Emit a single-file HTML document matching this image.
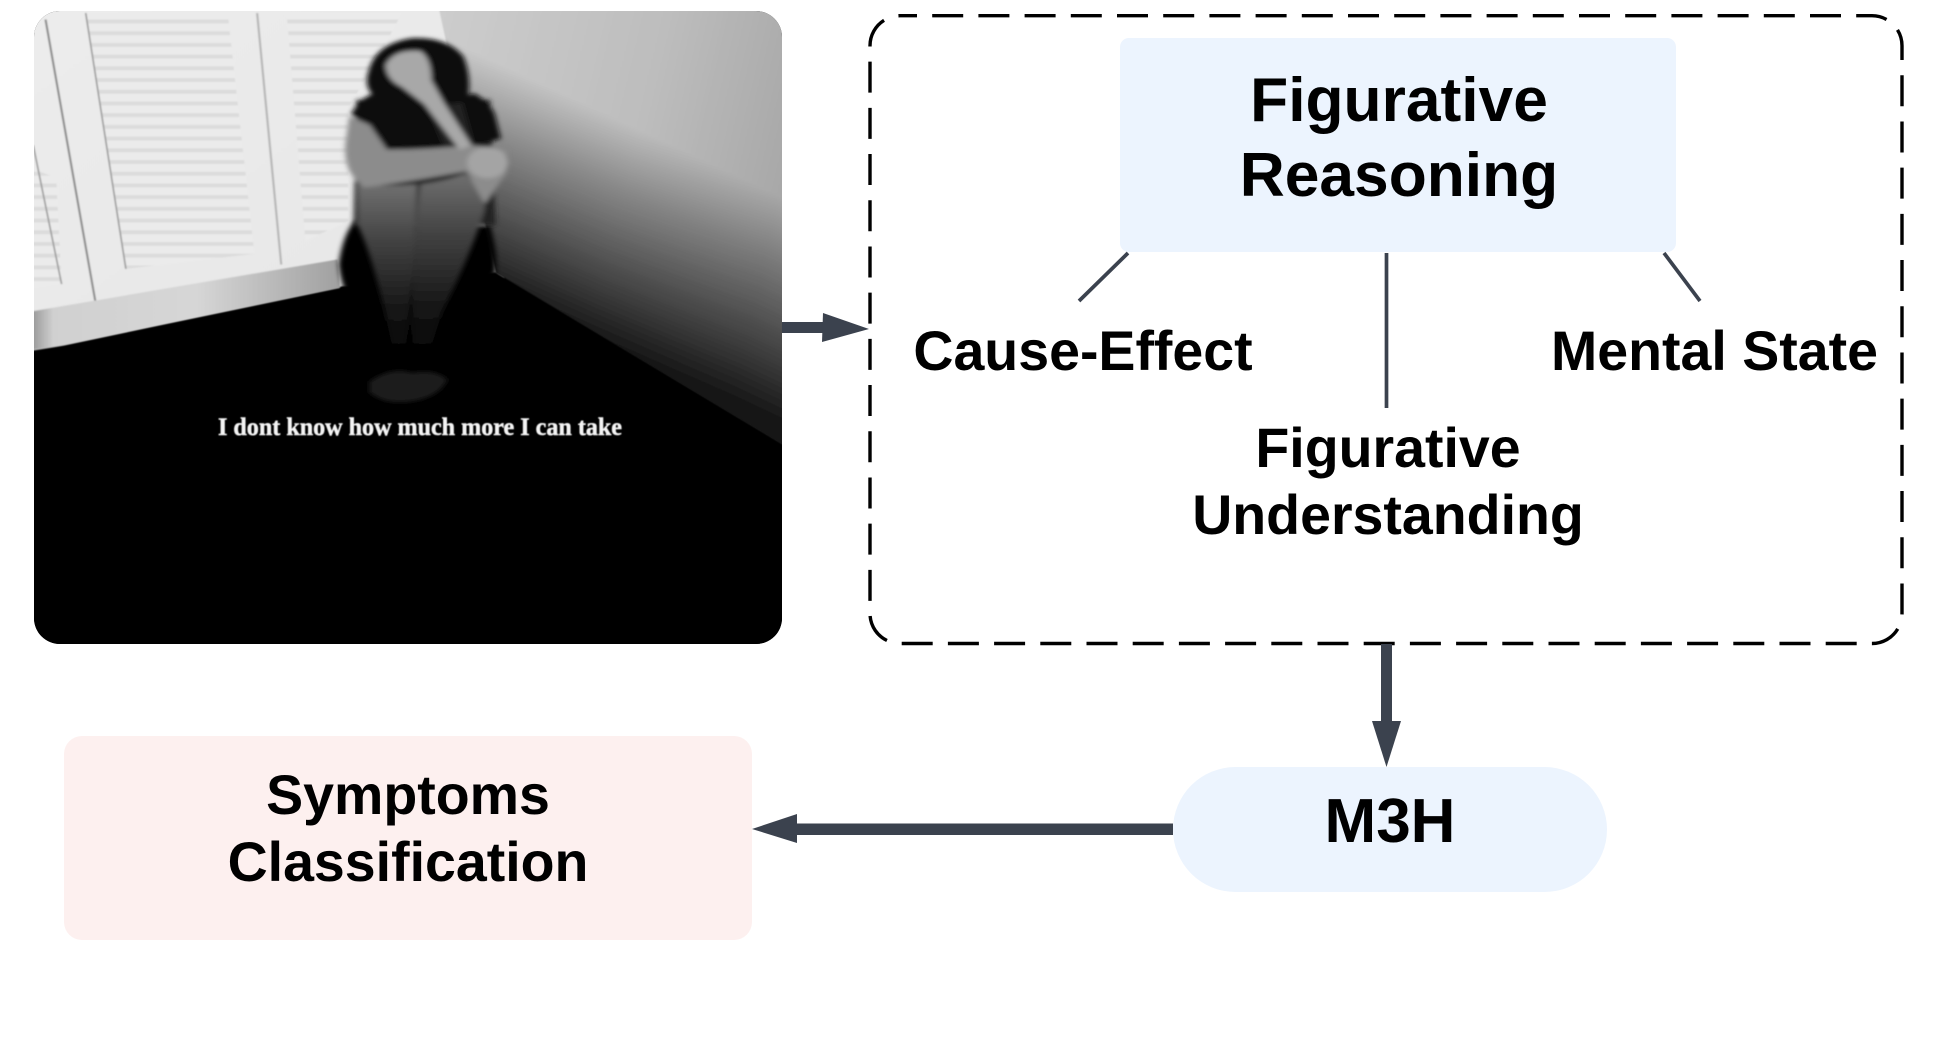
<!DOCTYPE html>
<html><head><meta charset="utf-8"><title>Figurative Reasoning Diagram</title>
<style>html,body{margin:0;padding:0;background:#fff}svg{display:block}text{font-family:"Liberation Sans",sans-serif;font-weight:700;fill:#000;text-anchor:middle}</style></head>
<body>
<svg width="1956" height="1064" viewBox="0 0 1956 1064" xmlns="http://www.w3.org/2000/svg">
<defs>
<clipPath id="ph"><rect x="34" y="11" width="748" height="633" rx="26" ry="26"/></clipPath>
<linearGradient id="wall" x1="0" y1="0" x2="1" y2="0.3"><stop offset="0" stop-color="#cdcdcd"/><stop offset=".6" stop-color="#bdbdbd"/><stop offset="1" stop-color="#a8a8a8"/></linearGradient>
<linearGradient id="shade" gradientUnits="userSpaceOnUse" x1="1190" y1="825" x2="1420" y2="430"><stop offset="0" stop-color="#000" stop-opacity=".88"/><stop offset=".3" stop-color="#000" stop-opacity=".62"/><stop offset=".7" stop-color="#000" stop-opacity=".28"/><stop offset="1" stop-color="#000" stop-opacity="0"/></linearGradient>
<linearGradient id="door" x1="0" y1="0" x2="1" y2="1"><stop offset="0" stop-color="#ececec"/><stop offset="1" stop-color="#e6e6e6"/></linearGradient>
<linearGradient id="base" x1="0" y1="0" x2="1" y2="0"><stop offset="0" stop-color="#7c7c7c"/><stop offset=".1" stop-color="#d0d0d0"/><stop offset=".55" stop-color="#d6d6d6"/><stop offset="1" stop-color="#a0a0a0"/></linearGradient>
<linearGradient id="leg" x1="0" y1="0" x2="0" y2="1"><stop offset="0" stop-color="#707070"/><stop offset=".35" stop-color="#424242"/><stop offset=".75" stop-color="#181818"/><stop offset="1" stop-color="#050505"/></linearGradient>
<pattern id="louver" patternUnits="userSpaceOnUse" width="40" height="27"><rect width="40" height="27" fill="#ebebeb"/><rect y="18" width="40" height="9" fill="#dcdcdc"/></pattern>
<filter id="b1" x="-10%" y="-10%" width="120%" height="120%"><feGaussianBlur stdDeviation="1.6"/></filter>
<filter id="b2" x="-20%" y="-20%" width="140%" height="140%"><feGaussianBlur stdDeviation="5"/></filter>
<filter id="bt" x="-5%" y="-20%" width="110%" height="140%"><feGaussianBlur stdDeviation="0.45"/></filter>
</defs>

<g clip-path="url(#ph)">
<rect x="34" y="11" width="748" height="633" fill="#000"/>
<g transform="scale(0.5357 0.4337)">
<g filter="url(#b1)">
<polygon points="40,0 940,0 940,660 640,660 40,820" fill="url(#door)"/>
<polygon points="160,30 425,30 475,585 235,620" fill="url(#louver)"/>
<polygon points="535,30 750,30 720,100 650,250 650,510 570,555" fill="url(#louver)"/>
<polygon points="40,380 105,410 115,655 40,670" fill="url(#louver)"/>
<line x1="85" y1="45" x2="178" y2="695" stroke="#8a8a8a" stroke-width="4"/>
<line x1="62" y1="335" x2="115" y2="655" stroke="#999" stroke-width="3"/>
<line x1="480" y1="30" x2="525" y2="610" stroke="#b5b5b5" stroke-width="4"/>
<line x1="160" y1="30" x2="235" y2="620" stroke="#999" stroke-width="3"/>
<polygon points="816,0 1480,0 1480,1040 925,630" fill="url(#wall)"/>
<polygon points="816,0 1480,0 1480,1040 925,630" fill="url(#shade)"/>
<polygon points="40,722 630,598 635,665 120,797 40,810" fill="url(#base)"/>
</g>
<polygon points="925,628 1480,1040 1480,1300 800,1300 635,665" fill="#000" filter="url(#b1)"/>
<polygon points="40,812 120,797 640,664 800,900 1480,1035 1480,1500 40,1500" fill="#000" filter="url(#b1)"/>

<!-- figure -->
<path d="M632,610 Q640,540 662,510 L915,520 Q930,590 925,632 Q870,690 800,770 L690,750 Q640,700 632,610Z" fill="#060606" filter="url(#b2)"/>
<g filter="url(#b2)">
<path d="M665,230 L915,230 L925,520 L660,520Z" fill="#222"/>
<path d="M668,425 Q720,430 778,425 Q775,600 758,800 L732,800 Q700,600 668,520Z" fill="url(#leg)"/>
<path d="M785,425 Q840,415 868,400 Q905,450 905,480 Q885,570 825,720 L805,800 L770,800 Q765,600 785,425Z" fill="url(#leg)"/>
<path d="M688,165 Q700,100 770,88 Q835,85 865,130 Q882,180 872,235 L800,245 L700,225 Q678,200 688,165Z" fill="#101010"/>
<path d="M655,265 Q670,225 700,215 L790,225 L830,340 L725,345 Q700,300 690,285Z" fill="#0a0a0a"/>
<path d="M860,225 L885,215 Q920,240 925,270 L935,320 L885,335Z" fill="#0a0a0a"/>
<path d="M652,268 L690,288 L722,345 Q800,345 880,335 L945,345 L945,400 L905,470 L870,395 Q760,420 680,432 Q640,400 645,330Z" fill="#8c8c8c"/>
<path d="M720,150 Q735,112 785,118 Q805,135 805,185 L830,240 L880,335 L858,345 L792,240 L750,200 Q722,185 720,150Z" fill="#a8a8a8"/>
<ellipse cx="910" cy="375" rx="38" ry="36" fill="#a4a4a4"/>
<path d="M690,880 Q730,845 770,860 Q810,850 835,875 Q820,915 770,925 Q720,935 690,905Z" fill="#1c1c1c"/>
</g>
</g>
<text x="420" y="435" font-size="25" textLength="404" lengthAdjust="spacingAndGlyphs" filter="url(#bt)" stroke="#f0f0f0" stroke-width=".5" style="font-family:'Liberation Serif',serif;fill:#f4f4f4">I dont know how much more I can take</text>
</g>

<rect x="870" y="15.7" width="1032" height="627.8" rx="30" ry="30" fill="none" stroke="#000" stroke-width="3.4" stroke-dasharray="31 15.2" stroke-dashoffset="14"/>

<rect x="1120" y="38" width="556" height="214" rx="9" fill="#ecf4fe"/>
<line x1="1128" y1="253" x2="1079" y2="301" stroke="#3b424e" stroke-width="3.7"/>
<line x1="1386.5" y1="253" x2="1386.5" y2="408" stroke="#3b424e" stroke-width="3.7"/>
<line x1="1664" y1="253" x2="1700" y2="301" stroke="#3b424e" stroke-width="3.7"/>

<text x="1399" y="121" font-size="62.3">Figurative</text>
<text x="1399" y="196" font-size="62.3">Reasoning</text>
<text x="1083" y="370" font-size="55.5">Cause-Effect</text>
<text x="1714.5" y="370" font-size="55.5">Mental State</text>
<text x="1388" y="467" font-size="55.5">Figurative</text>
<text x="1388" y="534" font-size="55.5">Understanding</text>

<rect x="64" y="736" width="688" height="204" rx="18" fill="#fdf0ef"/>
<text x="408" y="814" font-size="55.5">Symptoms</text>
<text x="408" y="881" font-size="55.5">Classification</text>

<rect x="1173" y="767" width="434" height="125" rx="62.5" fill="#ecf4fe"/>
<text x="1390" y="842" font-size="62">M3H</text>

<rect x="782" y="322" width="42" height="11" fill="#3b424e"/>
<polygon points="823,313 869,329 822,342" fill="#3b424e"/>
<rect x="1381" y="644" width="11" height="77" fill="#3b424e"/>
<polygon points="1372,721 1401,721 1386.5,767" fill="#3b424e"/>
<rect x="797" y="823.5" width="376" height="11.5" fill="#3b424e"/>
<polygon points="752,829 797,814 797,843" fill="#3b424e"/>
</svg>
</body></html>
